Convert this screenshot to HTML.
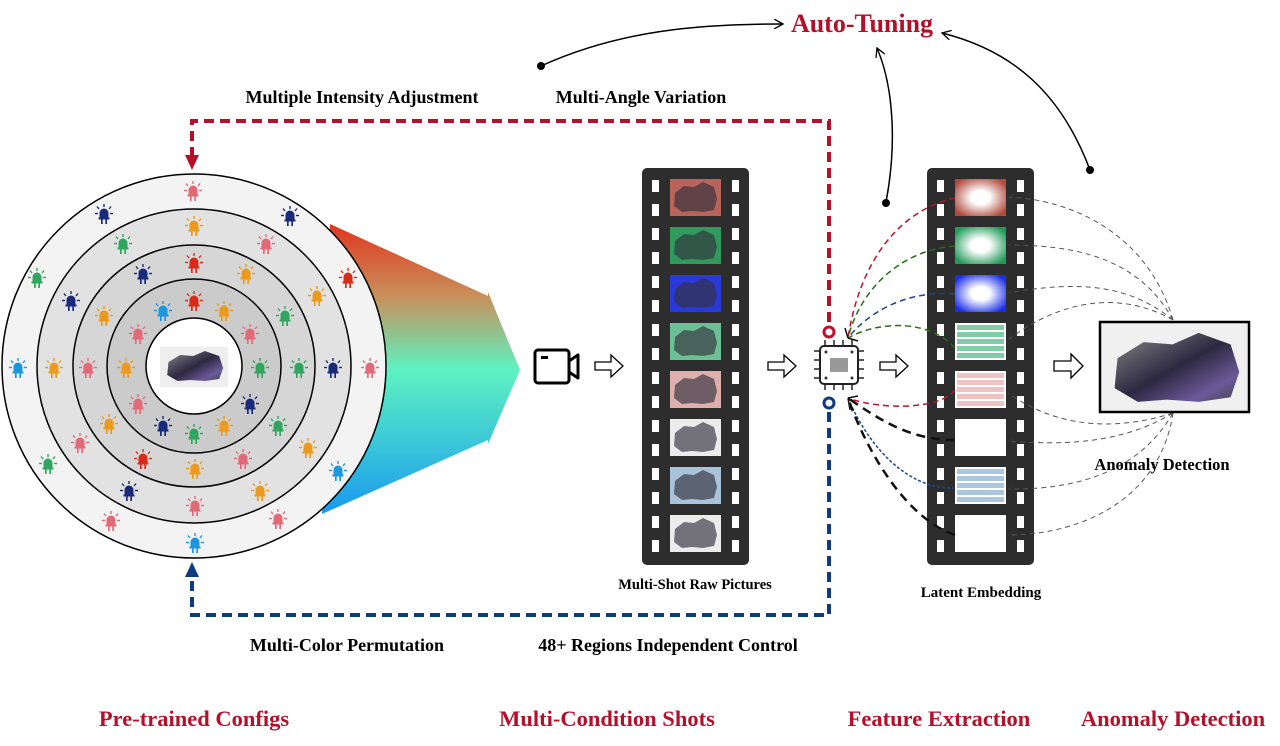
<!DOCTYPE html>
<html><head><meta charset="utf-8"><style>
body{margin:0;background:#fff;}
svg{display:block;}
.t{font-family:"Liberation Serif",serif;font-weight:bold;}
</style></head><body>
<svg width="1280" height="746" viewBox="0 0 1280 746" xmlns="http://www.w3.org/2000/svg">
<defs>
<g id="led">
<path d="M-4.5,5 V0 A4.5,4.5 0 0 1 4.5,0 V5 Z" fill="currentColor"/>
<rect x="-5.5" y="4.5" width="11" height="2" fill="currentColor"/>
<rect x="-3" y="6" width="1.7" height="5" fill="currentColor"/>
<rect x="1.3" y="6" width="1.7" height="5" fill="currentColor"/>
<g stroke="currentColor" stroke-width="1.4">
<line x1="0" y1="-6" x2="0" y2="-9"/><line x1="-5" y1="-4" x2="-7" y2="-6.5"/><line x1="5" y1="-4" x2="7" y2="-6.5"/><line x1="-6" y1="0.5" x2="-9" y2="0.5"/><line x1="6" y1="0.5" x2="9" y2="0.5"/></g>
</g>
<path id="rock" d="M5,14 L14,7 L24,8 L33,3 L44,8 L47,20 L44,31 L33,33 L22,32 L12,33 L4,27 Z"/>
<linearGradient id="fan" x1="0" y1="0" x2="0" y2="1">
<stop offset="0" stop-color="#e0361e"/><stop offset="0.25" stop-color="#c8905a"/><stop offset="0.5" stop-color="#5ff2c0"/><stop offset="0.75" stop-color="#3cc8d8"/><stop offset="1" stop-color="#1a98ee"/>
</linearGradient>
<radialGradient id="gr" cx="0.5" cy="0.5" r="0.6"><stop offset="0.3" stop-color="#fff"/><stop offset="1" stop-color="#b04a3c"/></radialGradient>
<radialGradient id="gg" cx="0.5" cy="0.5" r="0.6"><stop offset="0.3" stop-color="#fff"/><stop offset="1" stop-color="#1f9a58"/></radialGradient>
<radialGradient id="gb" cx="0.5" cy="0.5" r="0.6"><stop offset="0.3" stop-color="#fff"/><stop offset="1" stop-color="#1a2ee8"/></radialGradient>
<linearGradient id="rk" x1="0" y1="0" x2="1" y2="1"><stop offset="0" stop-color="#888"/><stop offset="0.5" stop-color="#2c2840"/><stop offset="0.8" stop-color="#6a5a9a"/><stop offset="1" stop-color="#444"/></linearGradient>
<marker id="ah" markerWidth="10" markerHeight="10" refX="9" refY="5" orient="auto" markerUnits="userSpaceOnUse"><path d="M0,0 L9,5 L0,10" fill="none" stroke="#000" stroke-width="1.3"/></marker>
<marker id="ah2" markerWidth="8" markerHeight="8" refX="7" refY="4" orient="auto" markerUnits="userSpaceOnUse"><path d="M0,0 L7,4 L0,8" fill="none" stroke="#333" stroke-width="1"/></marker>
</defs>

<polygon points="330,224 488,296 488,292 520,370 488,444 488,440 322,514" fill="url(#fan)"/>

<circle cx="194" cy="366" r="192" fill="#f3f3f3" stroke="#000" stroke-width="1.5"/>
<circle cx="194" cy="366" r="157" fill="#e2e2e2" stroke="#000" stroke-width="1.5"/>
<circle cx="194" cy="366" r="121" fill="#d6d6d6" stroke="#000" stroke-width="1.5"/>
<circle cx="194" cy="366" r="87" fill="#cbcbcb" stroke="#000" stroke-width="1.5"/>
<circle cx="194" cy="366" r="48" fill="#fff" stroke="#000" stroke-width="1.5"/>
<rect x="160" y="347" width="68" height="40" fill="#eee"/>
<use href="#rock" transform="translate(162,348) scale(1.3,1.0)" fill="url(#rk)"/>

<g>
<use href="#led" x="193" y="190" style="color:#e06a78"/><use href="#led" x="104" y="213" style="color:#1a2a7a"/><use href="#led" x="290" y="215" style="color:#1a2a7a"/><use href="#led" x="37" y="277" style="color:#2fa55e"/><use href="#led" x="348" y="277" style="color:#d92b1a"/><use href="#led" x="18" y="367" style="color:#1e96dd"/><use href="#led" x="370" y="367" style="color:#e06a78"/><use href="#led" x="48" y="463" style="color:#2fa55e"/><use href="#led" x="338" y="470" style="color:#1e96dd"/><use href="#led" x="111" y="520" style="color:#e06a78"/><use href="#led" x="278" y="518" style="color:#e06a78"/><use href="#led" x="195" y="542" style="color:#1e96dd"/>
<use href="#led" x="194" y="225" style="color:#eb9a1e"/><use href="#led" x="123" y="243" style="color:#2fa55e"/><use href="#led" x="266" y="243" style="color:#e06a78"/><use href="#led" x="71" y="300" style="color:#1a2a7a"/><use href="#led" x="317" y="295" style="color:#eb9a1e"/><use href="#led" x="54" y="367" style="color:#eb9a1e"/><use href="#led" x="333" y="367" style="color:#1a2a7a"/><use href="#led" x="80" y="442" style="color:#e06a78"/><use href="#led" x="308" y="447" style="color:#eb9a1e"/><use href="#led" x="129" y="490" style="color:#1a2a7a"/><use href="#led" x="260" y="490" style="color:#eb9a1e"/><use href="#led" x="195" y="505" style="color:#e06a78"/>
<use href="#led" x="194" y="262" style="color:#d92b1a"/><use href="#led" x="143" y="273" style="color:#1a2a7a"/><use href="#led" x="246" y="273" style="color:#eb9a1e"/><use href="#led" x="104" y="315" style="color:#eb9a1e"/><use href="#led" x="285" y="315" style="color:#2fa55e"/><use href="#led" x="88" y="367" style="color:#e06a78"/><use href="#led" x="299" y="367" style="color:#2fa55e"/><use href="#led" x="109" y="423" style="color:#eb9a1e"/><use href="#led" x="278" y="425" style="color:#2fa55e"/><use href="#led" x="143" y="458" style="color:#d92b1a"/><use href="#led" x="243" y="458" style="color:#e06a78"/><use href="#led" x="195" y="468" style="color:#eb9a1e"/>
<use href="#led" x="194" y="300" style="color:#d92b1a"/><use href="#led" x="163" y="310" style="color:#1e96dd"/><use href="#led" x="224" y="310" style="color:#eb9a1e"/><use href="#led" x="138" y="333" style="color:#e06a78"/><use href="#led" x="250" y="333" style="color:#e06a78"/><use href="#led" x="126" y="367" style="color:#eb9a1e"/><use href="#led" x="260" y="367" style="color:#2fa55e"/><use href="#led" x="138" y="403" style="color:#e06a78"/><use href="#led" x="250" y="403" style="color:#1a2a7a"/><use href="#led" x="163" y="425" style="color:#1a2a7a"/><use href="#led" x="194" y="433" style="color:#2fa55e"/><use href="#led" x="224" y="425" style="color:#eb9a1e"/>
</g>

<path d="M829,322 V121 H192 V158" fill="none" stroke="#b5102a" stroke-width="4" stroke-dasharray="10,6"/>
<polygon points="185,155 199,155 192,170" fill="#b5102a"/>
<path d="M829,412 V615 H192 V574" fill="none" stroke="#0d3a80" stroke-width="4" stroke-dasharray="10,6"/>
<polygon points="185,577 199,577 192,562" fill="#0d3a80"/>

<rect x="535" y="350" width="34" height="33" rx="3" fill="#fff" stroke="#000" stroke-width="3"/>
<rect x="541" y="356" width="7" height="3" fill="#000"/>
<path d="M569,361 L578,355 V378 L569,372 Z" fill="#fff" stroke="#000" stroke-width="3" stroke-linejoin="round"/>

<g fill="#fff" stroke="#000" stroke-width="1.3">
<path d="M595,362 H611 V355 L623,366 L611,377 V370 H595 Z"/>
<path d="M768,362 H784 V355 L796,366 L784,377 V370 H768 Z"/>
<path d="M880,362 H896 V355 L908,366 L896,377 V370 H880 Z"/>
<path d="M1054,361 H1071 V354 L1083,366 L1071,378 V371 H1054 Z"/>
</g>

<rect x="642" y="168" width="107" height="397" rx="5" fill="#2d2d2d"/>
<g fill="#fff">
<rect x="652" y="180" width="7" height="12"/><rect x="652" y="204" width="7" height="12"/><rect x="652" y="228" width="7" height="12"/><rect x="652" y="252" width="7" height="12"/><rect x="652" y="276" width="7" height="12"/><rect x="652" y="300" width="7" height="12"/><rect x="652" y="324" width="7" height="12"/><rect x="652" y="348" width="7" height="12"/><rect x="652" y="372" width="7" height="12"/><rect x="652" y="396" width="7" height="12"/><rect x="652" y="420" width="7" height="12"/><rect x="652" y="444" width="7" height="12"/><rect x="652" y="468" width="7" height="12"/><rect x="652" y="492" width="7" height="12"/><rect x="652" y="516" width="7" height="12"/><rect x="652" y="540" width="7" height="12"/>
<rect x="732" y="180" width="7" height="12"/><rect x="732" y="204" width="7" height="12"/><rect x="732" y="228" width="7" height="12"/><rect x="732" y="252" width="7" height="12"/><rect x="732" y="276" width="7" height="12"/><rect x="732" y="300" width="7" height="12"/><rect x="732" y="324" width="7" height="12"/><rect x="732" y="348" width="7" height="12"/><rect x="732" y="372" width="7" height="12"/><rect x="732" y="396" width="7" height="12"/><rect x="732" y="420" width="7" height="12"/><rect x="732" y="444" width="7" height="12"/><rect x="732" y="468" width="7" height="12"/><rect x="732" y="492" width="7" height="12"/><rect x="732" y="516" width="7" height="12"/><rect x="732" y="540" width="7" height="12"/>
</g>
<rect x="670" y="179" width="51" height="37" fill="#b8645a"/>
<rect x="670" y="227" width="51" height="37" fill="#2f9a5c"/>
<rect x="670" y="275" width="51" height="37" fill="#2a3ad8"/>
<rect x="670" y="323" width="51" height="37" fill="#6cc096"/>
<rect x="670" y="371" width="51" height="37" fill="#ddb0ae"/>
<rect x="670" y="419" width="51" height="37" fill="#ececec"/>
<rect x="670" y="467" width="51" height="37" fill="#a9c4da"/>
<rect x="670" y="515" width="51" height="37" fill="#ececec"/>
<g fill="#34323e" opacity="0.65">
<use href="#rock" x="670" y="179"/><use href="#rock" x="670" y="227"/><use href="#rock" x="670" y="275"/><use href="#rock" x="670" y="323"/><use href="#rock" x="670" y="371"/><use href="#rock" x="670" y="419"/><use href="#rock" x="670" y="467"/><use href="#rock" x="670" y="515"/>
</g>

<rect x="927" y="168" width="107" height="397" rx="5" fill="#2d2d2d"/>
<g fill="#fff">
<rect x="937" y="180" width="7" height="12"/><rect x="937" y="204" width="7" height="12"/><rect x="937" y="228" width="7" height="12"/><rect x="937" y="252" width="7" height="12"/><rect x="937" y="276" width="7" height="12"/><rect x="937" y="300" width="7" height="12"/><rect x="937" y="324" width="7" height="12"/><rect x="937" y="348" width="7" height="12"/><rect x="937" y="372" width="7" height="12"/><rect x="937" y="396" width="7" height="12"/><rect x="937" y="420" width="7" height="12"/><rect x="937" y="444" width="7" height="12"/><rect x="937" y="468" width="7" height="12"/><rect x="937" y="492" width="7" height="12"/><rect x="937" y="516" width="7" height="12"/><rect x="937" y="540" width="7" height="12"/>
<rect x="1017" y="180" width="7" height="12"/><rect x="1017" y="204" width="7" height="12"/><rect x="1017" y="228" width="7" height="12"/><rect x="1017" y="252" width="7" height="12"/><rect x="1017" y="276" width="7" height="12"/><rect x="1017" y="300" width="7" height="12"/><rect x="1017" y="324" width="7" height="12"/><rect x="1017" y="348" width="7" height="12"/><rect x="1017" y="372" width="7" height="12"/><rect x="1017" y="396" width="7" height="12"/><rect x="1017" y="420" width="7" height="12"/><rect x="1017" y="444" width="7" height="12"/><rect x="1017" y="468" width="7" height="12"/><rect x="1017" y="492" width="7" height="12"/><rect x="1017" y="516" width="7" height="12"/><rect x="1017" y="540" width="7" height="12"/>
</g>
<rect x="955" y="179" width="51" height="37" fill="url(#gr)"/>
<rect x="955" y="227" width="51" height="37" fill="url(#gg)"/>
<rect x="955" y="275" width="51" height="37" fill="url(#gb)"/>
<rect x="955" y="323" width="51" height="37" fill="#fff"/>
<g fill="#7fcca6"><rect x="957" y="325" width="47" height="5"/><rect x="957" y="332" width="47" height="5"/><rect x="957" y="339" width="47" height="5"/><rect x="957" y="346" width="47" height="5"/><rect x="957" y="353" width="47" height="5"/></g>
<rect x="955" y="371" width="51" height="37" fill="#fff"/>
<g fill="#efc3c3"><rect x="957" y="373" width="47" height="5"/><rect x="957" y="380" width="47" height="5"/><rect x="957" y="387" width="47" height="5"/><rect x="957" y="394" width="47" height="5"/><rect x="957" y="401" width="47" height="5"/></g>
<rect x="955" y="419" width="51" height="37" fill="#fff"/>
<rect x="955" y="467" width="51" height="37" fill="#fff"/>
<g fill="#aac7df"><rect x="957" y="469" width="47" height="5"/><rect x="957" y="476" width="47" height="5"/><rect x="957" y="483" width="47" height="5"/><rect x="957" y="490" width="47" height="5"/><rect x="957" y="497" width="47" height="5"/></g>
<rect x="955" y="515" width="51" height="37" fill="#fff"/>

<g stroke="#222" stroke-width="1.5" fill="none">
<line x1="825" y1="340" x2="825" y2="346"/><line x1="834" y1="340" x2="834" y2="346"/><line x1="843" y1="340" x2="843" y2="346"/><line x1="852" y1="340" x2="852" y2="346"/>
<line x1="825" y1="384" x2="825" y2="390"/><line x1="834" y1="384" x2="834" y2="390"/><line x1="843" y1="384" x2="843" y2="390"/><line x1="852" y1="384" x2="852" y2="390"/>
<line x1="814" y1="351" x2="820" y2="351"/><line x1="814" y1="360" x2="820" y2="360"/><line x1="814" y1="369" x2="820" y2="369"/><line x1="814" y1="378" x2="820" y2="378"/>
<line x1="858" y1="351" x2="864" y2="351"/><line x1="858" y1="360" x2="864" y2="360"/><line x1="858" y1="369" x2="864" y2="369"/><line x1="858" y1="378" x2="864" y2="378"/>
</g>
<rect x="820" y="346" width="38" height="38" rx="4" fill="#fff" stroke="#222" stroke-width="2"/>
<g fill="#333"><circle cx="826" cy="352" r="1.5"/><circle cx="852" cy="352" r="1.5"/><circle cx="826" cy="378" r="1.5"/><circle cx="852" cy="378" r="1.5"/>
<rect x="830" y="358" width="18" height="14" fill="#999"/></g>
<circle cx="829" cy="332" r="5" fill="#fff" stroke="#c0102a" stroke-width="3"/>
<circle cx="829" cy="403" r="5" fill="#fff" stroke="#0d3a80" stroke-width="3"/>

<g fill="none" stroke-width="1.5" stroke-dasharray="6,4">
<path d="M955,198 C900,210 860,260 848,338" stroke="#c0102a"/>
<path d="M955,246 C900,250 860,290 848,338" stroke="#2a6a12"/>
<path d="M955,294 C910,290 870,310 848,338" stroke="#154a8a"/>
<path d="M955,348 C930,320 880,320 848,338" stroke="#2a6a12"/>
<path d="M955,390 C940,410 880,410 848,398" stroke="#c0102a"/>
<path d="M955,488 C910,490 870,450 848,398" stroke="#154a8a" stroke-dasharray="3,2"/>
</g>
<g fill="none" stroke="#111" stroke-width="2.5" stroke-dasharray="9,6">
<path d="M955,440 C910,440 880,420 848,398"/>
<path d="M955,535 C910,520 870,460 848,398"/>
</g>
<g stroke="#111" stroke-width="1.5"><line x1="848" y1="398" x2="858" y2="396"/><line x1="848" y1="398" x2="856" y2="404"/><line x1="848" y1="398" x2="850" y2="410"/><line x1="848" y1="338" x2="858" y2="341"/><line x1="848" y1="338" x2="845" y2="328"/></g>

<g fill="none" stroke="#555" stroke-width="1" stroke-dasharray="5,4" marker-end="url(#ah2)">
<path d="M1173,320 C1150,240 1080,200 1008,197"/>
<path d="M1173,320 C1140,260 1080,245 1008,245"/>
<path d="M1173,320 C1130,285 1080,280 1008,293"/>
<path d="M1173,320 C1120,290 1060,300 1008,340"/>
<path d="M1173,413 C1120,430 1060,430 1008,393"/>
<path d="M1173,413 C1120,445 1060,445 1008,441"/>
<path d="M1173,413 C1140,470 1080,490 1008,489"/>
<path d="M1173,413 C1160,500 1080,535 1008,535"/>
</g>

<rect x="1100" y="322" width="149" height="90" fill="#f0f0f0" stroke="#000" stroke-width="2.5"/>
<use href="#rock" transform="translate(1103,326) scale(2.9,2.3)" fill="url(#rk)"/>

<g fill="none" stroke="#000" stroke-width="1.5">
<path d="M541,66 C620,30 700,24 783,24" marker-end="url(#ah)"/>
<path d="M886,202 C896,150 895,90 877,48" marker-end="url(#ah)"/>
<path d="M1090,170 C1060,90 1010,50 942,33" marker-end="url(#ah)"/>
</g>
<circle cx="541" cy="66" r="4" fill="#000"/>
<circle cx="886" cy="203" r="4" fill="#000"/>
<circle cx="1090" cy="170" r="4" fill="#000"/>

<text x="862" y="32" class="t" font-size="26" fill="#b5102a" text-anchor="middle">Auto-Tuning</text>
<text x="362" y="103" class="t" font-size="18" text-anchor="middle">Multiple Intensity Adjustment</text>
<text x="641" y="103" class="t" font-size="18" text-anchor="middle">Multi-Angle Variation</text>
<text x="347" y="651" class="t" font-size="18" text-anchor="middle">Multi-Color Permutation</text>
<text x="668" y="651" class="t" font-size="18" text-anchor="middle">48+ Regions Independent Control</text>
<text x="695" y="589" class="t" font-size="14.5" text-anchor="middle">Multi-Shot Raw Pictures</text>
<text x="981" y="597" class="t" font-size="15" text-anchor="middle">Latent Embedding</text>
<text x="1162" y="470" class="t" font-size="16.5" text-anchor="middle">Anomaly Detection</text>
<g class="t" font-size="22.5" fill="#b5102a" text-anchor="middle">
<text x="194" y="726">Pre-trained Configs</text>
<text x="607" y="726">Multi-Condition Shots</text>
<text x="939" y="726">Feature Extraction</text>
<text x="1173" y="726">Anomaly Detection</text>
</g>
</svg>
</body></html>
